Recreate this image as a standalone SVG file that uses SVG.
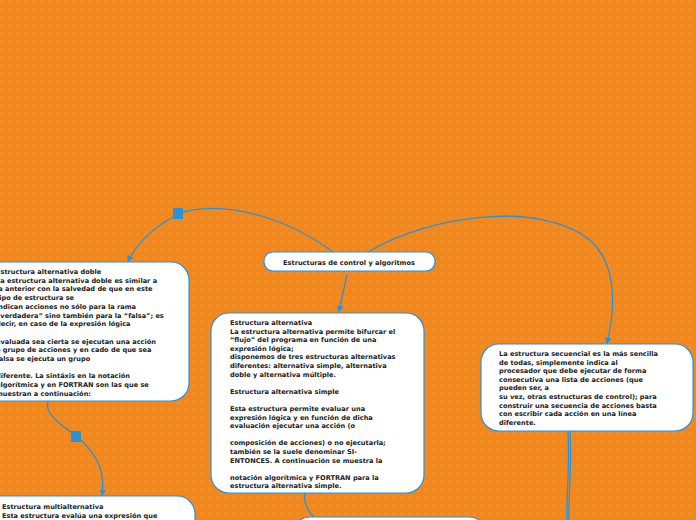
<svg xmlns="http://www.w3.org/2000/svg" width="696" height="520" viewBox="0 0 696 520">
<defs>
<pattern id="grid" width="8" height="8" patternUnits="userSpaceOnUse"><rect width="8" height="8" fill="#F0871F"/><rect width="4" height="4" fill="#F28C25"/></pattern>
<marker id="arr" viewBox="0 0 10 10" refX="8" refY="5" markerWidth="5" markerHeight="5" orient="auto"><path d="M0,0 L10,5 L0,10 z" fill="#2A93D8"/></marker>
</defs>
<style>
.n{fill:#fff;stroke:#2A93D8;stroke-width:1.2}
.t{font-family:"DejaVu Sans",Verdana,sans-serif;font-size:6.6px;font-weight:bold;fill:#222}
.c{fill:none;stroke:#2A93D8;stroke-width:1.3}
.m{fill:#2A93D8}
</style>
<rect width="696" height="520" fill="url(#grid)"/>
<g id="connectors">
<path class="c" d="M333,252 C290,220 230,200 183,212 C155,225 138,242 128,261" marker-end="url(#arr)"/>
<rect class="m" x="173" y="208" width="10" height="11"/>
<path class="c" d="M368,252 C430,215 540,200 590,240 C618,265 615,310 607,343" marker-end="url(#arr)"/>
<path class="c" d="M347,275 L339,311" marker-end="url(#arr)"/>
<path class="c" d="M48,401 C44,415 62,425 75,435 C100,455 105,475 102,495" marker-end="url(#arr)"/>
<rect class="m" x="71" y="431" width="10" height="11"/>
<path class="c" d="M305,493 C303,503 307,510 314,517"/>
<path class="c" d="M568,431 C570,470 566,500 567,520"/>
<path class="c" d="M570,431 C572,470 568,500 569,520"/>
</g>
<g id="root"><rect class="n" x="264" y="252" width="171" height="19" rx="9"/><text class="t" x="349" y="264.5" text-anchor="middle">Estructuras de control y algoritmos</text></g>
<g id="doble"><rect class="n" x="-20" y="262" width="209" height="139" rx="18"/>
<text class="t" x="-4" y="274">
<tspan x="-4">Estructura alternativa doble</tspan>
<tspan x="-4" dy="8.7">La estructura alternativa doble es similar a</tspan>
<tspan x="-4" dy="8.7">la anterior con la salvedad de que en este</tspan>
<tspan x="-4" dy="8.7">tipo de estructura se</tspan>
<tspan x="-4" dy="8.7">indican acciones no sólo para la rama</tspan>
<tspan x="-4" dy="8.7">“verdadera” sino también para la “falsa”; es</tspan>
<tspan x="-4" dy="8.7">decir, en caso de la expresión lógica</tspan>
<tspan x="-4" dy="17.4">evaluada sea cierta se ejecutan una acción</tspan>
<tspan x="-4" dy="8.7">o grupo de acciones y en cado de que sea</tspan>
<tspan x="-4" dy="8.7">falsa se ejecuta un grupo</tspan>
<tspan x="-4" dy="17.4">diferente. La sintáxis en la notación</tspan>
<tspan x="-4" dy="8.7">algorítmica y en FORTRAN son las que se</tspan>
<tspan x="-4" dy="8.7">muestran a continuación:</tspan>
</text></g>
<g id="alternativa"><rect class="n" x="211" y="313" width="213" height="180" rx="18"/>
<text class="t" x="230" y="325">
<tspan x="230">Estructura alternativa</tspan>
<tspan x="230" dy="8.6">La estructura alternativa permite bifurcar el</tspan>
<tspan x="230" dy="8.6">“flujo” del programa en función de una</tspan>
<tspan x="230" dy="8.6">expresión lógica;</tspan>
<tspan x="230" dy="8.6">disponemos de tres estructuras alternativas</tspan>
<tspan x="230" dy="8.6">diferentes: alternativa simple, alternativa</tspan>
<tspan x="230" dy="8.6">doble y alternativa múltiple.</tspan>
<tspan x="230" dy="17.2">Estructura alternativa simple</tspan>
<tspan x="230" dy="17.2">Esta estructura permite evaluar una</tspan>
<tspan x="230" dy="8.6">expresión lógica y en función de dicha</tspan>
<tspan x="230" dy="8.6">evaluación ejecutar una acción (o</tspan>
<tspan x="230" dy="17.2">composición de acciones) o no ejecutarla;</tspan>
<tspan x="230" dy="8.6">también se la suele denominar SI-</tspan>
<tspan x="230" dy="8.6">ENTONCES. A continuación se muestra la</tspan>
<tspan x="230" dy="17.2">notación algorítmica y FORTRAN para la</tspan>
<tspan x="230" dy="8.6">estructura alternativa simple.</tspan>
</text></g>
<g id="secuencial"><rect class="n" x="481" y="344" width="212" height="87" rx="18"/>
<text class="t" x="499" y="356">
<tspan x="499">La estructura secuencial es la más sencilla</tspan>
<tspan x="499" dy="8.6">de todas, simplemente indica al</tspan>
<tspan x="499" dy="8.6">procesador que debe ejecutar de forma</tspan>
<tspan x="499" dy="8.6">consecutiva una lista de acciones (que</tspan>
<tspan x="499" dy="8.6">pueden ser, a</tspan>
<tspan x="499" dy="8.6">su vez, otras estructuras de control); para</tspan>
<tspan x="499" dy="8.6">construir una secuencia de acciones basta</tspan>
<tspan x="499" dy="8.6">con escribir cada acción en una línea</tspan>
<tspan x="499" dy="8.6">diferente.</tspan>
</text></g>
<g id="multi"><rect class="n" x="-20" y="496" width="215" height="60" rx="18"/>
<text class="t" x="2" y="509"><tspan x="2">Estructura multialternativa</tspan><tspan x="2" dy="8.6">Esta estructura evalúa una expresión que</tspan></text></g>
<g id="bottom"><rect class="n" x="292" y="517" width="195" height="60" rx="18"/></g>
</svg>
